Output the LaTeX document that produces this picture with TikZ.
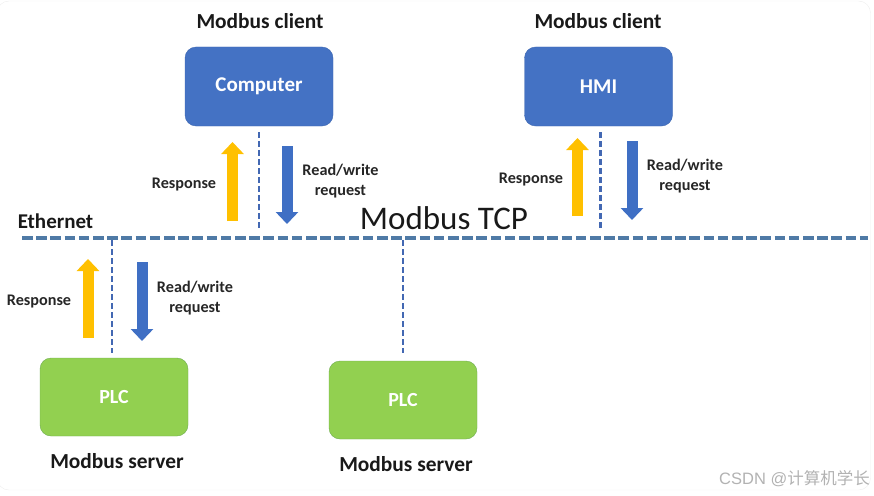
\documentclass[tikz,border=0pt]{standalone}
\usepackage{fontspec}
\setmainfont{Carlito}
\newfontfamily\latinmark{Liberation Sans}
\newfontfamily\markfont{Noto Sans CJK SC}
\usetikzlibrary{arrows.meta}
\definecolor{boxblue}{HTML}{4472C4}
\definecolor{boxgreen}{HTML}{92D050}
\definecolor{edgegreen}{HTML}{6FAD50}
\definecolor{busblue}{HTML}{4F7AA6}
\definecolor{respyellow}{HTML}{FFC000}
\definecolor{reqblue}{HTML}{3F6FC4}
\tikzset{
    client/.style={draw=boxblue!90!black,fill=boxblue,rounded corners=11pt,minimum width=148pt,minimum height=79pt,inner sep=0pt,text=white,font=\fontsize{21}{23}\selectfont\bfseries},
    server/.style={draw=edgegreen,fill=boxgreen,rounded corners=11pt,minimum width=148pt,minimum height=78pt,inner sep=0pt,text=white,font=\fontsize{20}{22}\selectfont\bfseries},
    role/.style={font=\fontsize{21.4}{23}\selectfont\bfseries,text=black!90},
    small/.style={font=\fontsize{16.2}{20}\selectfont\bfseries,text=black!85,align=center,inner sep=0pt},
    bus/.style={draw=busblue,line width=3.4pt,dash pattern=on 10.5pt off 3.7pt},
    link/.style={draw=busblue!85!blue,line width=2.4pt,dash pattern=on 5.5pt off 3.5pt},
    resp/.style={draw=respyellow,line width=11pt,-{Triangle[length=12pt,width=22pt]}},
    req/.style={draw=reqblue,line width=11pt,-{Triangle[length=12pt,width=22pt]}},
}
\begin{document}
\begin{tikzpicture}[x=1pt,y=-1pt]
    \useasboundingbox (0,0) rectangle (874,495);
    \draw[black!7,rounded corners=12pt] (-3,1) rectangle (870.5,490);
    % boxes
    \node[client] (computer) at (259,86.5) {Computer};
    \node[client] (hmi) at (598.5,86.5) {HMI};
    \node[server] (plca) at (114,397) {PLC};
    \node[server] (plcb) at (403,400) {PLC};
    % role labels
    \node[role] (rolea) at (260,21.5) {Modbus client};
    \node[role] (roleb) at (598,21.5) {Modbus client};
    \node[role] (rolec) at (117,461.5) {Modbus server};
    \node[role] (roled) at (406,464.5) {Modbus server};
    % network
    \node[font=\fontsize{21}{23}\selectfont\bfseries,text=black!90] (ethernet) at (55.5,221.5) {Ethernet};
    \node[font=\fontsize{33}{35}\selectfont,text=black!90] (tcp) at (444,218) {Modbus TCP};
    \draw (22,238) coordinate(busl);
    \draw (868,238) coordinate(busr);
    \draw[bus] (busl) -- (busr);
    % drops
    \draw (259,132) coordinate(ca);
    \draw (259,230) coordinate(cb);
    \draw (600.5,132) coordinate(ha);
    \draw (600.5,230) coordinate(hb);
    \draw (112,240) coordinate(pa);
    \draw (112,353) coordinate(pb);
    \draw (403,240) coordinate(qa);
    \draw (403,353) coordinate(qb);
    \draw[link] (ca) -- (cb);
    \draw[link] (ha) -- (hb);
    \draw[link] (pa) -- (pb);
    \draw[link] (qa) -- (qb);
    % arrows
    \draw (232.5,221) coordinate(ra);
    \draw (232.5,142) coordinate(rb);
    \draw (287,146) coordinate(wa);
    \draw (287,224) coordinate(wb);
    \draw (577.5,216) coordinate(sa);
    \draw (577.5,138) coordinate(sb);
    \draw (632,141) coordinate(xa);
    \draw (632,220) coordinate(xb);
    \draw (88,338) coordinate(ta);
    \draw (88,259) coordinate(tb);
    \draw (142,262) coordinate(ya);
    \draw (142,341) coordinate(yb);
    \draw[resp] (ra) -- (rb);
    \draw[req] (wa) -- (wb);
    \draw[resp] (sa) -- (sb);
    \draw[req] (xa) -- (xb);
    \draw[resp] (ta) -- (tb);
    \draw[req] (ya) -- (yb);
    % arrow labels
    \node[small] (resa) at (184,184.5) {Response};
    \node[small] (reqa) at (340.5,181.5) {Read/write\\request};
    \node[small] (resb) at (531,179.5) {Response};
    \node[small] (reqb) at (685,176.5) {Read/write\\request};
    \node[small] (resc) at (39,301.5) {Response};
    \node[small] (reqc) at (195,298.5) {Read/write\\request};
    % watermark
    \node[anchor=east,inner sep=0pt,text=black!30,font=\fontsize{16.5}{18}\selectfont] (mark) at (870,479) {{\latinmark CSDN @}{\markfont 计算机学长}};
\end{tikzpicture}
\end{document}
